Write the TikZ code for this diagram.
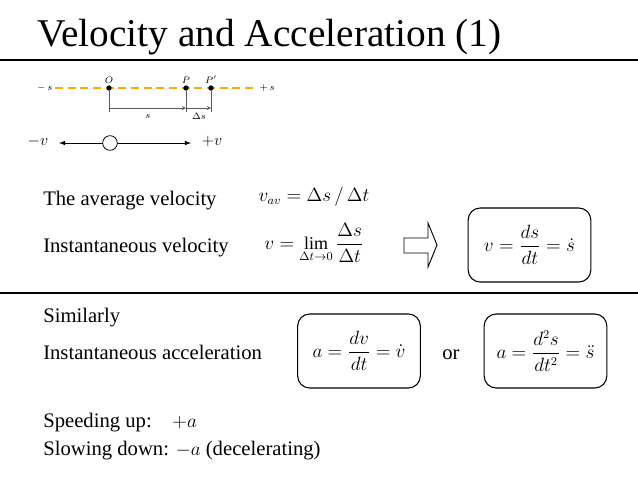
\documentclass[tikz,border=0pt]{standalone}
\usepackage{amsmath}
\usepackage{fontspec}
\setmainfont{Liberation Serif}
\begin{document}
\begin{tikzpicture}[x=0.75pt,y=-0.75pt,
  txt/.style={anchor=base west,inner sep=0pt,font=\fontsize{15.5}{19}\selectfont},
  frm/.style={inner sep=0pt,font=\fontsize{13.5}{16}\selectfont},
  sm/.style={inner sep=1pt,font=\fontsize{7}{8}\selectfont},
  bx/.style={draw,rounded corners=9pt,line width=0.8pt,minimum width=92pt,minimum height=55.5pt,inner sep=0pt,font=\fontsize{13.5}{16}\selectfont},
  dot/.style={circle,fill,inner sep=0pt,minimum size=4pt}]
\useasboundingbox (0,0) rectangle (638,479);
\node[anchor=base west,inner sep=0pt,font=\fontsize{29.5}{36}\selectfont] (title) at (37,46) {Velocity and Acceleration (1)};
\draw[line width=1pt] (0,60) coordinate (l1a) -- (638,60) coordinate (l1b);
\draw[line width=1pt] (0,293) coordinate (l2a) -- (638,293) coordinate (l2b);
% top diagram
\coordinate (sl) at (55,88); \coordinate (sr) at (256,88);
\draw[orange!70!yellow,line width=1.3pt,dash pattern=on 6pt off 3.5pt] (sl) -- (sr);
\node[sm,anchor=east] (ms) at (54,88) {$-\,s$};
\node[sm,anchor=west] (ps) at (258,88) {$+\,s$};
\node[dot] (O) at (109,88) {}; \node[dot] (P) at (186,88) {}; \node[dot] (Pp) at (211,88) {};
\node[sm,anchor=south] at (O.north) {$O$};
\node[sm,anchor=south] at (P.north) {$P$};
\node[sm,anchor=south] at (Pp.north) {$P'$};
\coordinate (Ob) at (109,112); \coordinate (Pb) at (186,112); \coordinate (Ppb) at (211,112);
\draw[gray!70!black,line width=0.4pt] (O) -- (Ob) (P) -- (Pb) (Pp) -- (Ppb);
\draw[gray!70!black,line width=0.4pt,-stealth] (109,108) -- (186,108);
\draw[gray!70!black,line width=0.4pt,-stealth] (186,108) -- (211,108);
\node[sm] (slab) at (148,116) {$s$};
\node[sm] (dslab) at (199,116) {$\Delta s$};
\node[inner sep=0pt,font=\fontsize{13}{16}\selectfont] (mv) at (38,141) {$-v$};
\node[inner sep=0pt,font=\fontsize{13}{16}\selectfont] (pv) at (212,141) {$+v$};
\coordinate (al) at (59,143); \coordinate (ar) at (191,143);
\draw[-latex,line width=0.6pt] (110,143) -- (al);
\draw[-latex,line width=0.6pt] (110,143) -- (ar);
\node[circle,draw,fill=white,inner sep=0pt,minimum size=11pt,line width=0.6pt] (c) at (110,143) {};
% texts
\node[txt] (t1) at (43,205) {The average velocity};
\node[txt] (t2) at (43,252) {Instantaneous velocity};
\node[txt] (t3) at (43,322) {Similarly};
\node[txt] (t4) at (43,359) {Instantaneous acceleration};
\node[txt] (t5) at (43,427) {Speeding up:\ \ \ \ $+a$};
\node[txt] (t6) at (43,455) {Slowing down: $-a$ (decelerating)};
\node[txt] (or) at (442,359) {or};
\node[frm] (f1) at (314,197) {$v_{av}=\Delta s\,/\,\Delta t$};
\node[frm] (f2) at (314,243) {$v=\lim\limits_{\Delta t\to 0}\dfrac{\Delta s}{\Delta t}$};
\node[bx] (f3) at (529.5,245) {$v=\dfrac{ds}{dt}=\dot s$};
\node[bx] (f4) at (359,351) {$a=\dfrac{dv}{dt}=\dot v$};
\node[bx] (f5) at (545.5,351) {$a=\dfrac{d^2s}{dt^2}=\ddot s$};
\draw[line width=0.7pt] (404,238) -- (428,238) -- (428,223) -- (437,245) -- (428,267) -- (428,253) -- (404,253) -- cycle;
\end{tikzpicture}
\end{document}
